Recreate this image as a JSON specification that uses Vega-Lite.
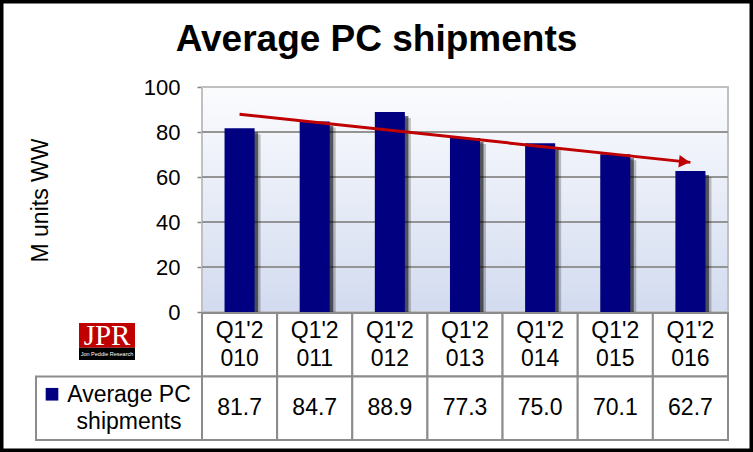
{
  "$schema": "https://vega.github.io/schema/vega-lite/v6.json",
  "width": 753,
  "height": 452,
  "autosize": "none",
  "padding": 0,
  "background": "white",
  "title": {"text": "Average PC shipments", "font": "Liberation Sans", "fontSize": 37, "fontWeight": "bold", "color": "black", "anchor": "middle", "frame": "group", "offset": -88, "baseline": "alphabetic"},
  "datasets": {
    "main": [
      {"quarter": "Q1'2010", "shipments": 81.7},
      {"quarter": "Q1'2011", "shipments": 84.7},
      {"quarter": "Q1'2012", "shipments": 88.9},
      {"quarter": "Q1'2013", "shipments": 77.3},
      {"quarter": "Q1'2014", "shipments": 75.0},
      {"quarter": "Q1'2015", "shipments": 70.1},
      {"quarter": "Q1'2016", "shipments": 62.7}
    ],
    "trend": [
      {"quarter": "Q1'2010", "trend": 87.9},
      {"quarter": "Q1'2016", "trend": 66.5}
    ],
    "grid": [{"tick": 20}, {"tick": 40}, {"tick": 60}, {"tick": 80}],
    "one": [{"item": "x"}]
  },
  "layer": [
    {
      "data": {"name": "one"},
      "mark": {"type": "rect", "color": {"gradient": "linear", "x1": 0, "y1": 0, "x2": 0, "y2": 1, "stops": [{"offset": 0, "color": "#fbfcfe"}, {"offset": 1, "color": "#d2dbef"}]}, "stroke": "#c0c0c0", "strokeWidth": 2},
      "encoding": {
        "x": {"datum": 0, "type": "quantitative", "scale": {"domain": [0, 1], "range": [202, 728], "zero": false, "nice": false}, "axis": null},
        "x2": {"datum": 1},
        "y": {"datum": 0, "type": "quantitative", "scale": {"domain": [0, 100], "range": [312, 87], "zero": false, "nice": false}, "axis": null},
        "y2": {"datum": 100}
      }
    },
    {
      "data": {"name": "grid"},
      "mark": {"type": "rule", "color": "#949494", "strokeWidth": 2},
      "encoding": {
        "x": {"datum": 0, "type": "quantitative", "scale": {"domain": [0, 1], "range": [202, 728], "zero": false, "nice": false}, "axis": null},
        "x2": {"datum": 1},
        "y": {"field": "tick", "type": "quantitative", "scale": {"domain": [0, 100], "range": [312, 87], "zero": false, "nice": false}, "axis": null}
      }
    },
    {
      "data": {"name": "main"},
      "mark": {"type": "bar", "color": "black", "opacity": 0.22, "xOffset": 6, "yOffset": 6},
      "encoding": {
        "x": {"field": "quarter", "type": "nominal", "scale": {"type": "band", "domain": ["Q1'2010", "Q1'2011", "Q1'2012", "Q1'2013", "Q1'2014", "Q1'2015", "Q1'2016"], "range": [202, 728], "paddingInner": 0.6, "paddingOuter": 0.3}, "axis": null},
        "y": {"field": "shipments", "type": "quantitative", "scale": {"domain": [0, 100], "range": [312, 87], "zero": true, "nice": false}, "axis": null}
      }
    },
    {
      "data": {"name": "main"},
      "mark": {"type": "bar", "color": "black", "opacity": 0.55, "xOffset": 3.5, "yOffset": 4},
      "encoding": {
        "x": {"field": "quarter", "type": "nominal", "scale": {"type": "band", "domain": ["Q1'2010", "Q1'2011", "Q1'2012", "Q1'2013", "Q1'2014", "Q1'2015", "Q1'2016"], "range": [202, 728], "paddingInner": 0.6, "paddingOuter": 0.3}, "axis": null},
        "y": {"field": "shipments", "type": "quantitative", "scale": {"domain": [0, 100], "range": [312, 87], "zero": true, "nice": false}, "axis": null}
      }
    },
    {
      "data": {"name": "main"},
      "mark": {"type": "bar", "color": "#000080"},
      "encoding": {
        "x": {"field": "quarter", "type": "nominal", "scale": {"type": "band", "domain": ["Q1'2010", "Q1'2011", "Q1'2012", "Q1'2013", "Q1'2014", "Q1'2015", "Q1'2016"], "range": [202, 728], "paddingInner": 0.6, "paddingOuter": 0.3}, "axis": null},
        "y": {"field": "shipments", "type": "quantitative", "scale": {"domain": [0, 100], "range": [312, 87], "zero": true, "nice": false},
          "axis": {"offset": -202, "values": [0, 20, 40, 60, 80, 100], "grid": false, "title": "M units WW", "titleX": -162, "titleY": 200, "titleAngle": -90, "titleAlign": "center", "titleBaseline": "middle", "titleFont": "Liberation Sans", "titleFontSize": 23, "titleFontWeight": "normal", "titleColor": "black", "labelFont": "Liberation Sans", "labelFontSize": 22, "labelColor": "black", "labelPadding": 17, "labelFlush": false, "labelOverlap": false, "tickSize": 5, "tickColor": "#808080", "tickWidth": 1.5, "domain": true, "domainColor": "#808080", "domainWidth": 2}}
      }
    },
    {
      "data": {"name": "trend"},
      "mark": {"type": "line", "color": "#c00000", "strokeWidth": 3},
      "encoding": {
        "x": {"field": "quarter", "type": "nominal", "scale": {"type": "band", "domain": ["Q1'2010", "Q1'2011", "Q1'2012", "Q1'2013", "Q1'2014", "Q1'2015", "Q1'2016"], "range": [202, 728], "paddingInner": 0.6, "paddingOuter": 0.3}, "axis": null},
        "y": {"field": "trend", "type": "quantitative", "scale": {"domain": [0, 100], "range": [312, 87], "zero": true, "nice": false}, "axis": null}
      }
    },
    {
      "data": {"name": "trend"},
      "transform": [{"filter": "datum.quarter == \"Q1'2016\""}],
      "mark": {"type": "point", "shape": "triangle-right", "filled": true, "color": "#c00000", "opacity": 1, "size": 160, "angle": 6, "xOffset": -6, "yOffset": -0.6},
      "encoding": {
        "x": {"field": "quarter", "type": "nominal", "scale": {"type": "band", "domain": ["Q1'2010", "Q1'2011", "Q1'2012", "Q1'2013", "Q1'2014", "Q1'2015", "Q1'2016"], "range": [202, 728], "paddingInner": 0.6, "paddingOuter": 0.3}, "axis": null},
        "y": {"field": "trend", "type": "quantitative", "scale": {"domain": [0, 100], "range": [312, 87], "zero": true, "nice": false}, "axis": null}
      }
    },
    {
      "data": {"name": "main"},
      "mark": {"type": "rect", "fill": "white", "stroke": "#8c8c8c", "strokeWidth": 2},
      "encoding": {
        "x": {"field": "quarter", "type": "nominal", "scale": {"type": "band", "domain": ["Q1'2010", "Q1'2011", "Q1'2012", "Q1'2013", "Q1'2014", "Q1'2015", "Q1'2016"], "range": [202, 728], "paddingInner": 0, "paddingOuter": 0}, "axis": null},
        "y": {"datum": "cat", "type": "nominal", "scale": {"type": "band", "domain": ["cat", "val"], "range": [313, 440], "paddingInner": 0, "paddingOuter": 0}, "axis": null}
      }
    },
    {
      "data": {"name": "main"},
      "mark": {"type": "rect", "fill": "white", "stroke": "#8c8c8c", "strokeWidth": 2},
      "encoding": {
        "x": {"field": "quarter", "type": "nominal", "scale": {"type": "band", "domain": ["Q1'2010", "Q1'2011", "Q1'2012", "Q1'2013", "Q1'2014", "Q1'2015", "Q1'2016"], "range": [202, 728], "paddingInner": 0, "paddingOuter": 0}, "axis": null},
        "y": {"datum": "val", "type": "nominal", "scale": {"type": "band", "domain": ["cat", "val"], "range": [313, 440], "paddingInner": 0, "paddingOuter": 0}, "axis": null}
      }
    },
    {
      "data": {"name": "one"},
      "mark": {"type": "rect", "fill": "white", "stroke": "#8c8c8c", "strokeWidth": 2},
      "encoding": {
        "x": {"datum": "legend", "type": "nominal", "scale": {"type": "band", "domain": ["legend"], "range": [36, 202], "paddingInner": 0, "paddingOuter": 0}, "axis": null},
        "y": {"datum": "val", "type": "nominal", "scale": {"type": "band", "domain": ["cat", "val"], "range": [313, 440], "paddingInner": 0, "paddingOuter": 0}, "axis": null}
      }
    },
    {
      "data": {"name": "main"},
      "mark": {"type": "text", "font": "Liberation Sans", "fontSize": 23, "lineHeight": 28, "color": "black", "align": "center", "baseline": "middle", "yOffset": -14, "text": {"expr": "[slice(datum.quarter, 0, 4), slice(datum.quarter, 4)]"}},
      "encoding": {
        "x": {"field": "quarter", "type": "nominal", "scale": {"type": "band", "domain": ["Q1'2010", "Q1'2011", "Q1'2012", "Q1'2013", "Q1'2014", "Q1'2015", "Q1'2016"], "range": [202, 728], "paddingInner": 0, "paddingOuter": 0}, "axis": null},
        "y": {"datum": "cat", "type": "nominal", "scale": {"type": "band", "domain": ["cat", "val"], "range": [313, 440], "paddingInner": 0, "paddingOuter": 0}, "axis": null}
      }
    },
    {
      "data": {"name": "main"},
      "mark": {"type": "text", "font": "Liberation Sans", "fontSize": 23, "color": "black", "align": "center", "baseline": "middle"},
      "encoding": {
        "x": {"field": "quarter", "type": "nominal", "scale": {"type": "band", "domain": ["Q1'2010", "Q1'2011", "Q1'2012", "Q1'2013", "Q1'2014", "Q1'2015", "Q1'2016"], "range": [202, 728], "paddingInner": 0, "paddingOuter": 0}, "axis": null},
        "y": {"datum": "val", "type": "nominal", "scale": {"type": "band", "domain": ["cat", "val"], "range": [313, 440], "paddingInner": 0, "paddingOuter": 0}, "axis": null},
        "text": {"field": "shipments", "type": "quantitative", "format": ".1f"}
      }
    },
    {
      "data": {"name": "one"},
      "mark": {"type": "text", "font": "Liberation Sans", "fontSize": 23, "lineHeight": 27, "color": "black", "align": "center", "baseline": "middle", "xOffset": 10, "yOffset": -13},
      "encoding": {
        "x": {"datum": "legend", "type": "nominal", "scale": {"type": "band", "domain": ["legend"], "range": [36, 202], "paddingInner": 0, "paddingOuter": 0}, "axis": null},
        "y": {"datum": "val", "type": "nominal", "scale": {"type": "band", "domain": ["cat", "val"], "range": [313, 440], "paddingInner": 0, "paddingOuter": 0}, "axis": null},
        "text": {"value": ["Average PC", "shipments"]}
      }
    },
    {
      "data": {"name": "one"},
      "mark": {"type": "point", "shape": "square", "filled": true, "color": "#000080", "opacity": 1, "size": 160, "xOffset": -67, "yOffset": -14},
      "encoding": {
        "x": {"datum": "legend", "type": "nominal", "scale": {"type": "band", "domain": ["legend"], "range": [36, 202], "paddingInner": 0, "paddingOuter": 0}, "axis": null},
        "y": {"datum": "val", "type": "nominal", "scale": {"type": "band", "domain": ["cat", "val"], "range": [313, 440], "paddingInner": 0, "paddingOuter": 0}, "axis": null}
      }
    },
    {
      "data": {"name": "one"},
      "mark": {"type": "rect", "color": "#c00000"},
      "encoding": {
        "x": {"datum": "logo", "type": "nominal", "scale": {"type": "band", "domain": ["logo"], "range": [79, 135], "paddingInner": 0, "paddingOuter": 0}, "axis": null},
        "y": {"datum": 1, "type": "quantitative", "scale": {"domain": [0, 3], "range": [360, 323], "zero": false, "nice": false}, "axis": null},
        "y2": {"datum": 3}
      }
    },
    {
      "data": {"name": "one"},
      "mark": {"type": "rect", "color": "black"},
      "encoding": {
        "x": {"datum": "logo", "type": "nominal", "scale": {"type": "band", "domain": ["logo"], "range": [79, 135], "paddingInner": 0, "paddingOuter": 0}, "axis": null},
        "y": {"datum": 0, "type": "quantitative", "scale": {"domain": [0, 3], "range": [360, 323], "zero": false, "nice": false}, "axis": null},
        "y2": {"datum": 1}
      }
    },
    {
      "data": {"name": "one"},
      "mark": {"type": "text", "font": "Liberation Serif", "fontSize": 29, "color": "white", "align": "center", "baseline": "middle", "yOffset": 1},
      "encoding": {
        "x": {"datum": "logo", "type": "nominal", "scale": {"type": "band", "domain": ["logo"], "range": [79, 135], "paddingInner": 0, "paddingOuter": 0}, "axis": null},
        "y": {"datum": 2, "type": "quantitative", "scale": {"domain": [0, 3], "range": [360, 323], "zero": false, "nice": false}, "axis": null},
        "text": {"value": "JPR"}
      }
    },
    {
      "data": {"name": "one"},
      "mark": {"type": "text", "font": "Liberation Sans", "fontSize": 5.5, "color": "white", "align": "center", "baseline": "middle"},
      "encoding": {
        "x": {"datum": "logo", "type": "nominal", "scale": {"type": "band", "domain": ["logo"], "range": [79, 135], "paddingInner": 0, "paddingOuter": 0}, "axis": null},
        "y": {"datum": 0.5, "type": "quantitative", "scale": {"domain": [0, 3], "range": [360, 323], "zero": false, "nice": false}, "axis": null},
        "text": {"value": "Jon Peddie Research"}
      }
    }
  ],
  "resolve": {"scale": {"x": "independent", "y": "independent"}, "axis": {"x": "independent", "y": "independent"}},
  "config": {
    "view": {"stroke": "black", "strokeWidth": 7, "fill": "white"},
    "font": "Liberation Sans"
  }
}
